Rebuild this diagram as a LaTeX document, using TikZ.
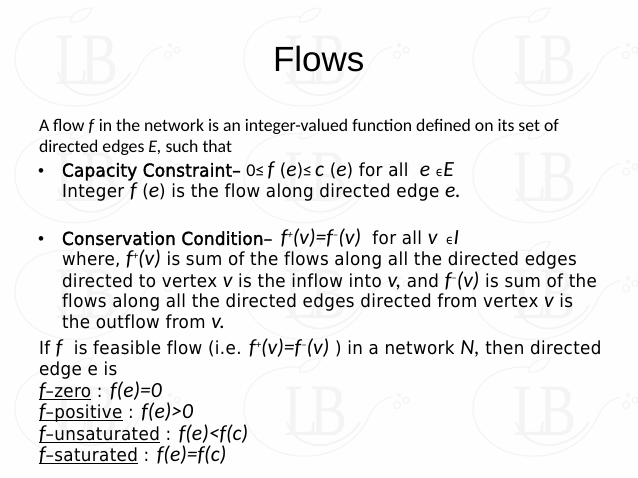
\documentclass[tikz,border=0pt]{standalone}
\usepackage{fontspec}
\setmainfont{Carlito}
\newfontfamily\bodyf[FakeStretch=0.93,LetterSpace=2.0,Ligatures=NoCommon]{DejaVu Sans}
\newfontfamily\semib[FakeStretch=0.94,FakeBold=1.6,LetterSpace=1.0,Ligatures=NoCommon]{DejaVu Sans}
\newfontfamily\titlef{Liberation Sans}
\newfontfamily\logof{Liberation Serif}
\newfontfamily\mathf[Scale=1.2]{Carlito}
\newcommand{\mi}[1]{{\mathf\itshape #1}}
\newcommand{\ul}[1]{\underline{\smash{#1}}}
\newcommand{\sgl}[1]{\raisebox{0.3em}{\scalebox{0.5}{#1}}}
\newcommand{\eps}{{\fontsize{13}{14}\bodyf ϵ}}
\definecolor{wm}{HTML}{F4F4F4}
\definecolor{bg}{HTML}{FEFEFE}
\tikzset{
  x=1pt,y=-1pt,
  txt/.style={anchor=base west,inner sep=0pt,outer sep=0pt,text=black},
  lead/.style={txt,font=\fontsize{17.7}{20}\selectfont},
  body/.style={txt,font=\fontsize{18}{20}\bodyf},
  wmline/.style={draw=wm,line width=1.1pt,line cap=round},
  wmtxt/.style={anchor=base,inner sep=0pt,text=wm,font=\fontsize{74}{76}\logof}
}
\begin{document}
\begin{tikzpicture}
\useasboundingbox (0,0) rectangle (638,478);
\fill[bg] (0,0) rectangle (638,478);
% watermark tiles
\foreach \i in {0,1,2} {
 \foreach \j in {0,1,2,3} {
  \begin{scope}[shift={(229*\i,116.7*\j)}]
   \node[wmtxt] (wl\i\j) at (72,85) {\scalebox{.75}[1]{L}};
   \node[wmtxt] (wb\i\j) at (100,85) {\scalebox{.75}[1]{B}};
   \draw[wmline] (72,17) .. controls (35,15) and (14,35) .. (15,60)
       .. controls (16,85) and (40,105) .. (72,106)
       .. controls (100,107) and (125,95) .. (138,70)
       .. controls (143,58) and (150,50) .. (162,47);
   \draw[wmline,line width=1.8pt] (58,72) .. controls (65,92) and (85,98) .. (100,94)
       .. controls (115,90) and (125,82) .. (131,72);
   \draw[wmline] (70,22) .. controls (72,12) and (82,8) .. (92,8)
       .. controls (90,16) and (82,23) .. (70,22);
   \draw[wmline] (168,55) circle (3.5);
   \draw[wmline] (177,50) circle (3);
   \draw[wmline] (170,45) circle (1.5);
  \end{scope}
 }
}
% title
\node[txt,font=\fontsize{35}{40}\titlef] (title) at (273,72) {Flows};
% intro
\node[lead] (l1) at (39,131.5) {A flow \textit{f} in the network is an integer-valued function defined on its set of};
\node[lead] (l2) at (39,152.7) {directed edges \textit{E,} such that};
% bullets
\node[txt,font=\fontsize{17}{20}\titlef] (b1) at (38,176.7) {•};
\node[txt,font=\fontsize{17}{20}\titlef] (b2) at (38,245) {•};
\node[body] (c1) at (62,176.7) {{\semib Capacity Constraint–} {\fontsize{15}{16}\mathf 0≤}\,\mi{f} (\mi{e}){\fontsize{15}{16}\mathf ≤}\,\mi{c} (\mi{e}) for all \ \mi{e} \eps\mi{E}};
\node[body] (c2) at (62,197.7) {Integer \mi{f} (\mi{e}) is the flow along directed edge \mi{e.}};
\node[body] (d1) at (62,245) {{\semib Conservation Condition–} \,\mi{f\sgl{+}(v)=f\sgl{–}(v)} \ for all \mi{v} \,\eps\mi{I}};
\node[body] (d2) at (62,265.7) {where, \mi{f\sgl{+}(v)} is sum of the flows along all the directed edges};
\node[body] (d3) at (62,287.7) {directed to vertex \mi{v} is the inflow into \mi{v,} and \mi{f\sgl{–}(v)} is sum of the};
\node[body] (d4) at (62,308) {flows along all the directed edges directed from vertex \mi{v} is};
\node[body] (d5) at (62,329) {the outflow from \mi{v.}};
% lower block
\node[body] (e1) at (39,355) {If \mi{f} \ is feasible flow (i.e. \mi{f\sgl{+}(v)=f\sgl{–}(v)} ) in a network \mi{N,} then directed};
\node[body] (e2) at (39,376) {edge e is};
\node[body] (e3) at (39,398) {\ul{\mi{f}–zero} : \mi{f(e)=0}};
\node[body] (e4) at (39,419) {\ul{\mi{f}–positive} : \mi{f(e)>0}};
\node[body] (e5) at (39,440.7) {\ul{\mi{f}–unsaturated} : \mi{f(e)<f(c)}};
\node[body] (e6) at (39,461.7) {\ul{\mi{f}–saturated} : \mi{f(e)=f(c)}};
\end{tikzpicture}
\end{document}
